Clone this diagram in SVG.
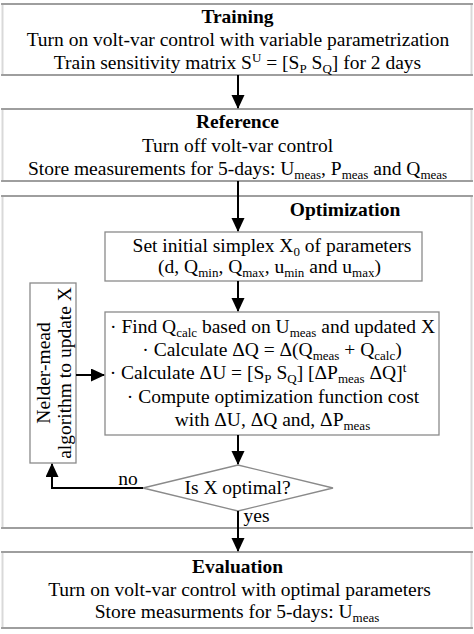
<svg xmlns="http://www.w3.org/2000/svg" width="474" height="634" viewBox="0 0 474 634">
<style>
.t{font-family:"Liberation Serif","Times New Roman",serif;font-size:19.5px;fill:#000;text-anchor:middle}
.b{font-weight:bold}
.s{font-size:13px}
.outer{fill:#fff;stroke:#d9d9d9;stroke-width:2}
.edge{stroke:#8a8a8a;stroke-width:1.6}
.box{fill:#fff;stroke:#8a8a8a;stroke-width:1.3}
.c{fill:none;stroke:#000;stroke-width:2}
</style>
<defs>
<marker id="ah" markerUnits="userSpaceOnUse" markerWidth="14" markerHeight="16" refX="13" refY="6.5" orient="auto">
<path d="M0,0 L14,6.5 L0,13 Z" fill="#000"/>
</marker>
</defs>
<rect width="474" height="634" fill="#fff"/>

<g id="training">
<rect class="outer" x="2.5" y="4" width="469" height="71"/>
<line class="edge" x1="1" y1="4" x2="473" y2="4"/>
<line class="edge" x1="1" y1="75" x2="473" y2="75"/>
<text class="t b" x="237.5" y="23">Training</text>
<text class="t" x="238" y="46">Turn on volt-var control with variable parametrization</text>
<text class="t" x="237.5" y="69">Train sensitivity matrix S<tspan class="s" baseline-shift="7">U</tspan> = [S<tspan class="s" baseline-shift="-4">P</tspan> S<tspan class="s" baseline-shift="-4">Q</tspan>] for 2 days</text>
</g>

<g id="reference">
<rect class="outer" x="2.5" y="109" width="469" height="72"/>
<line class="edge" x1="1" y1="109" x2="473" y2="109"/>
<line class="edge" x1="1" y1="181" x2="473" y2="181"/>
<text class="t b" x="237.5" y="128">Reference</text>
<text class="t" x="237.5" y="152">Turn off volt-var control</text>
<text class="t" x="237.5" y="175">Store measurements for 5-days: U<tspan class="s" baseline-shift="-4">meas</tspan>, P<tspan class="s" baseline-shift="-4">meas</tspan> and Q<tspan class="s" baseline-shift="-4">meas</tspan></text>
</g>

<g id="optimization">
<rect class="outer" x="2.5" y="196" width="469" height="332"/>
<line class="edge" x1="1" y1="196" x2="473" y2="196"/>
<line class="edge" x1="1" y1="528" x2="473" y2="528"/>
<text class="t b" x="345" y="216">Optimization</text>
</g>

<g id="simplex">
<rect class="box" x="105" y="232" width="317" height="49"/>
<text class="t" x="272" y="252">Set initial simplex X<tspan class="s" baseline-shift="-4">0</tspan> of parameters</text>
<text class="t" x="269.5" y="273">(d, Q<tspan class="s" baseline-shift="-4">min</tspan>, Q<tspan class="s" baseline-shift="-4">max</tspan>, u<tspan class="s" baseline-shift="-4">min</tspan> and u<tspan class="s" baseline-shift="-4">max</tspan>)</text>
</g>

<g id="compute">
<rect class="box" x="105" y="312" width="334" height="123"/>
<text class="t" x="272.5" y="333">· Find Q<tspan class="s" baseline-shift="-4">calc</tspan> based on U<tspan class="s" baseline-shift="-4">meas</tspan> and updated X</text>
<text class="t" x="272" y="356">· Calculate ΔQ = Δ(Q<tspan class="s" baseline-shift="-4">meas</tspan> + Q<tspan class="s" baseline-shift="-4">calc</tspan>)</text>
<text class="t" x="258" y="379">· Calculate ΔU = [S<tspan class="s" baseline-shift="-4">P</tspan> S<tspan class="s" baseline-shift="-4">Q</tspan>] [ΔP<tspan class="s" baseline-shift="-4">meas</tspan> ΔQ]<tspan class="s" baseline-shift="7">t</tspan></text>
<text class="t" x="273" y="403">· Compute optimization function cost</text>
<text class="t" x="272.5" y="426">with ΔU, ΔQ and, ΔP<tspan class="s" baseline-shift="-4">meas</tspan></text>
</g>

<g id="nelder">
<rect class="box" x="30" y="283" width="46" height="180"/>
<text class="t" transform="translate(50,373) rotate(-90)">Nelder-mead</text>
<text class="t" transform="translate(71,373) rotate(-90)">algorithm to update X</text>
</g>

<g id="decision">
<polygon class="box" points="143,488 238,465 333,488 238,511"/>
<text class="t" x="237.5" y="494">Is X optimal?</text>
</g>

<g id="evaluation">
<rect class="outer" x="2.5" y="552" width="469" height="76"/>
<line class="edge" x1="1" y1="552" x2="473" y2="552"/>
<line class="edge" x1="1" y1="628" x2="473" y2="628"/>
<text class="t b" x="237.5" y="573">Evaluation</text>
<text class="t" x="239.5" y="596">Turn on volt-var control with optimal parameters</text>
<text class="t" x="237" y="618">Store measurments for 5-days: U<tspan class="s" baseline-shift="-4">meas</tspan></text>
</g>

<g id="connectors">
<line class="c" x1="238" y1="75" x2="238" y2="108" marker-end="url(#ah)"/>
<line class="c" x1="238" y1="181" x2="238" y2="231" marker-end="url(#ah)"/>
<line class="c" x1="238" y1="281" x2="238" y2="311" marker-end="url(#ah)"/>
<line class="c" x1="238" y1="435" x2="238" y2="464" marker-end="url(#ah)"/>
<line class="c" x1="238" y1="511" x2="238" y2="551" marker-end="url(#ah)"/>
<line class="c" x1="76" y1="375" x2="104" y2="375" marker-end="url(#ah)"/>
<polyline class="c" points="143,488 52,488 52,464" marker-end="url(#ah)"/>
<text class="t" x="128" y="485">no</text>
<text class="t" x="256.5" y="522">yes</text>
</g>
</svg>
